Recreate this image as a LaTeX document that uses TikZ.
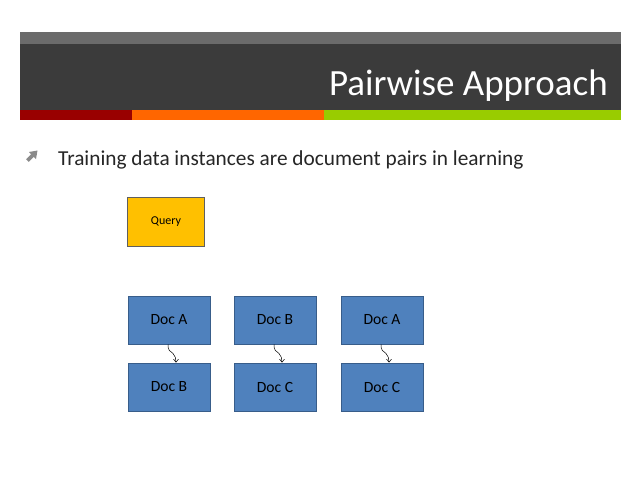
\documentclass[tikz,border=0pt]{standalone}
\usepackage{fontspec}
\setmainfont{Carlito}
\usetikzlibrary{arrows.meta}
\definecolor{hdark}{HTML}{3B3B3B}
\definecolor{hgray}{HTML}{6B6B6B}
\definecolor{hred}{HTML}{990000}
\definecolor{horange}{HTML}{FF6600}
\definecolor{hgreen}{HTML}{99CC00}
\definecolor{docfill}{HTML}{4F81BD}
\definecolor{docline}{HTML}{385D8A}
\definecolor{qfill}{HTML}{FFC000}
\definecolor{qline}{HTML}{5F5F5F}
\definecolor{bulletgray}{HTML}{8A8A8A}
\tikzset{
  docbox/.style={draw=docline, line width=0.9pt, fill=docfill, minimum width=82pt, minimum height=48pt, inner sep=0pt, font=\fontsize{15.6}{18}\selectfont, text=black},
  qbox/.style={draw=qline, line width=1.2pt, fill=qfill, minimum width=77pt, minimum height=49pt, inner sep=0pt, font=\fontsize{12}{14}\selectfont, text=black},
  link/.style={-{Straight Barb[length=3pt,width=5pt]}, line width=0.5pt, black}
}
\begin{document}
\begin{tikzpicture}[x=1pt,y=-1pt]
\useasboundingbox (0,0) rectangle (638,479);
\fill[white] (0,0) rectangle (638,479);
% header
\fill[hgray] (20,32) rectangle (621,44);
\fill[hdark] (20,44) rectangle (621,110);
\fill[hred] (20,110) rectangle (132,120);
\fill[horange] (132,110) rectangle (324,120);
\fill[hgreen] (324,110) rectangle (621,120);
\node[anchor=base east, text=white, font=\fontsize{37}{42}\selectfont, inner sep=0pt] (title) at (608,95) {Pairwise Approach};
% bullet
\fill[bulletgray] (37.5,150.5) -- (36,159) -- (33.8,156.8) -- (28.8,161.8) -- (26.2,159.2) -- (31.2,154.2) -- (29,152) -- cycle;
\node[anchor=base west, font=\fontsize{21.3}{24}\selectfont, text=black!85, inner sep=0pt] (bullet) at (58,165) {Training data instances are document pairs in learning};
% query
\node[qbox] (q) at (166,222) {Query};
% docs
\node[docbox] (a1) at (169,320) {Doc A};
\node[docbox] (b1) at (169,387) {Doc B};
\node[docbox] (a2) at (275,320) {Doc B};
\node[docbox] (b2) at (275,387) {Doc C};
\node[docbox] (a3) at (382,320) {Doc A};
\node[docbox] (b3) at (382,387) {Doc C};
\foreach \t/\b in {a1/b1,a2/b2,a3/b3}{
  \draw[link] ([xshift=-1pt]\t.south) .. controls +(0,7) and +(-3,-3) .. ([xshift=4pt,yshift=-9pt]\t.south) .. controls +(2,2) and +(0,-4) .. ([xshift=7pt]\b.north);
}
\end{tikzpicture}
\end{document}
